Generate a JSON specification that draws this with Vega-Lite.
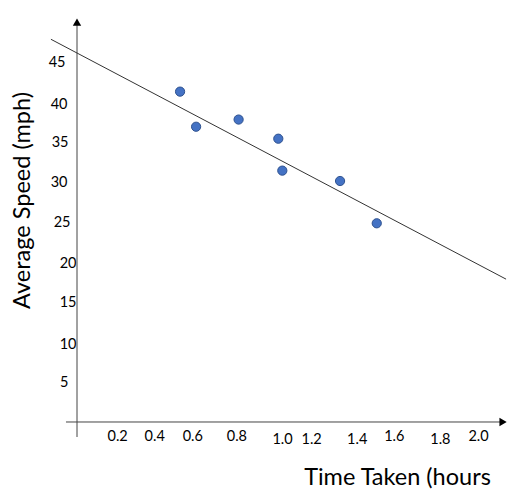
{
  "$schema": "https://vega.github.io/schema/vega-lite/v6.json",
  "width": 526,
  "height": 500,
  "autosize": {"type": "none"},
  "padding": 0,
  "background": "white",
  "config": {"view": {"stroke": null}, "font": "Lato"},
  "datasets": {
    "points": [
      {"x": 0.514, "y": 41.4},
      {"x": 0.594, "y": 37.0},
      {"x": 0.806, "y": 37.9},
      {"x": 1.004, "y": 35.5},
      {"x": 1.024, "y": 31.5},
      {"x": 1.312, "y": 30.2},
      {"x": 1.495, "y": 24.9}
    ],
    "trend": [
      {"x": -0.13, "y": 47.96},
      {"x": 2.14, "y": 17.9}
    ],
    "axisLines": [
      {"x": 0, "y": -1.88, "x2": 0, "y2": 50.2},
      {"x": -0.055, "y": 0, "x2": 2.12, "y2": 0}
    ],
    "arrows": [
      {"x": 0, "y": 50.1, "dir": "up"},
      {"x": 2.125, "y": 0, "dir": "right"}
    ]
  },
  "encoding": {
    "x": {
      "field": "x",
      "type": "quantitative",
      "scale": {"domain": [-0.38404, 2.2394], "nice": false, "zero": false},
      "axis": {
        "orient": "bottom",
        "offset": -78,
        "domain": false,
        "ticks": false,
        "grid": false,
        "values": [0.2, 0.4, 0.6, 0.8, 1.0, 1.2, 1.4, 1.6, 1.8, 2.0],
        "format": ".1f",
        "labelFont": "Lato",
        "labelFontSize": 14.5,
        "labelColor": "#000000",
        "labelFlush": false,
        "labelOverlap": false,
        "labelPadding": {
          "condition": {"test": "datum.value == 1 || datum.value == 1.2 || datum.value == 1.4 || datum.value == 1.8", "value": 10},
          "value": 7
        },
        "labelOffset": {
          "condition": [
            {"test": "datum.value == 0.4", "value": -3},
            {"test": "datum.value == 0.6", "value": -5},
            {"test": "datum.value == 0.8", "value": -1},
            {"test": "datum.value == 1", "value": 4.5},
            {"test": "datum.value == 1.2", "value": -6.5},
            {"test": "datum.value == 1.4", "value": -1},
            {"test": "datum.value == 1.6", "value": -4},
            {"test": "datum.value == 1.8", "value": 2}
          ],
          "value": 0
        },
        "title": "Time Taken (hours",
        "titleFont": "Lato",
        "titleFontSize": 23.5,
        "titleFontWeight": "normal",
        "titleColor": "#000000",
        "titleX": 397,
        "titleY": 55,
        "titleAlign": "center",
        "titleBaseline": "middle"
      }
    },
    "y": {
      "field": "y",
      "type": "quantitative",
      "scale": {"domain": [-9.775, 52.882], "nice": false, "zero": false},
      "axis": {
        "orient": "left",
        "offset": -77,
        "domain": false,
        "ticks": false,
        "grid": false,
        "values": [5, 10, 15, 20, 25, 30, 35, 40, 45],
        "labelFont": "Lato",
        "labelFontSize": 14.5,
        "labelColor": "#000000",
        "labelFlush": false,
        "labelOverlap": false,
        "labelPadding": {
          "condition": [
            {"test": "datum.value == 45", "value": 12},
            {"test": "datum.value == 40", "value": 10},
            {"test": "datum.value == 35", "value": 9},
            {"test": "datum.value == 30", "value": 10},
            {"test": "datum.value == 25", "value": 7},
            {"test": "datum.value == 5", "value": 9}
          ],
          "value": 1
        },
        "labelOffset": {
          "condition": [
            {"test": "datum.value == 40", "value": 2},
            {"test": "datum.value == 20", "value": 1.5},
            {"test": "datum.value == 10", "value": 2}
          ],
          "value": 0
        },
        "title": "Average Speed (mph)",
        "titleFont": "Lato",
        "titleFontSize": 23.5,
        "titleFontWeight": "normal",
        "titleColor": "#000000",
        "titleX": -55,
        "titleY": 200,
        "titleAngle": -90,
        "titleAlign": "center",
        "titleBaseline": "middle"
      }
    }
  },
  "layer": [
    {
      "data": {"name": "axisLines"},
      "mark": {"type": "rule", "color": "#444444", "strokeWidth": 1},
      "encoding": {
        "x2": {"field": "x2"},
        "y2": {"field": "y2"}
      }
    },
    {
      "data": {"name": "arrows"},
      "mark": {"type": "point", "filled": true, "opacity": 1, "color": "#000000", "size": 70},
      "encoding": {
        "shape": {
          "field": "dir",
          "type": "nominal",
          "scale": {"domain": ["up", "right"], "range": ["triangle-up", "triangle-right"]},
          "legend": null
        }
      }
    },
    {
      "data": {"name": "trend"},
      "mark": {"type": "line", "color": "#333333", "strokeWidth": 1}
    },
    {
      "data": {"name": "points"},
      "mark": {"type": "circle", "size": 85, "opacity": 1, "color": "#4472C4", "stroke": "#2F528F", "strokeWidth": 1}
    }
  ]
}
